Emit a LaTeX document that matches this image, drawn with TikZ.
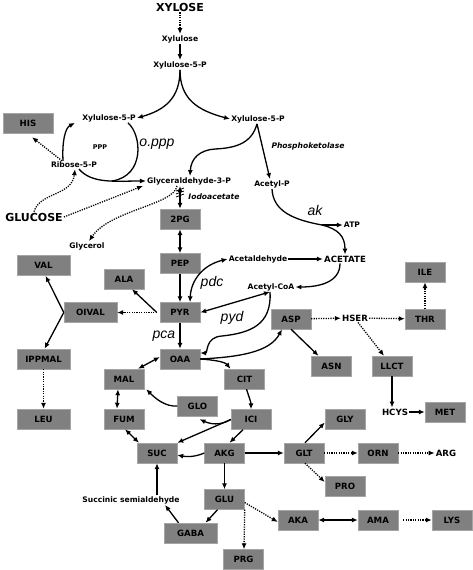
\documentclass[tikz,border=0pt]{standalone}
\usepackage{fontspec}
\setmainfont{DejaVu Sans}
\newfontfamily\labfont{Liberation Sans}
\usetikzlibrary{arrows.meta}
\definecolor{boxfill}{RGB}{128,128,128}
\definecolor{boxedge}{RGB}{165,165,165}
\begin{document}
\begin{tikzpicture}[x=1pt,y=-1pt,
  box/.style={draw=boxedge, fill=boxfill, minimum width=40pt, minimum height=20pt, inner sep=0pt, font=\bfseries\fontsize{8.6}{9}\selectfont},
  wbox/.style={box, minimum width=53pt},
  lab/.style={font=\bfseries\fontsize{7.6}{8}\selectfont, inner sep=1pt},
  mlab/.style={font=\bfseries\fontsize{8.6}{9}\selectfont, inner sep=1pt},
  big/.style={font=\bfseries\fontsize{11}{12}\selectfont, inner sep=1pt},
  enz/.style={font=\labfont\itshape\fontsize{14}{15}\selectfont, inner sep=0pt},
  enzb/.style={font=\bfseries\itshape\fontsize{7.6}{8}\selectfont, inner sep=0pt},
  tip/.tip={Latex[length=6pt,width=5pt]},
  arr/.style={-tip, line width=1.3pt},
  darr/.style={tip-tip, line width=1.3pt},
  dotarr/.style={-tip, line width=1.3pt, dash pattern=on 1.2pt off 1.2pt},
  pline/.style={line width=1.3pt}
]
\useasboundingbox (0,0) rectangle (473,570);
% text nodes
\node[big] (XYLOSE) at (180,7) {XYLOSE};
\node[lab] (Xylulose) at (180,39) {Xylulose};
\node[lab] (X5Pt) at (180,65) {Xylulose-5-P};
\node[lab] (X5Pl) at (109,118) {Xylulose-5-P};
\node[lab] (X5Pr) at (258,119) {Xylulose-5-P};
\node[font=\bfseries\fontsize{6.5}{7}\selectfont] (PPP) at (100,147) {PPP};
\node[enz] (oppp) at (157,144) {o.ppp};
\node[lab] (R5P) at (74,165) {Ribose-5-P};
\node[big] (GLUCOSE) at (34,217) {GLUCOSE};
\node[lab] (G3P) at (189,181) {Glyceraldehyde-3-P};
\node[enzb] (Iodo) at (214,197) {Iodoacetate};
\node[enzb] (Phospho) at (308,146) {Phosphoketolase};
\node[lab] (AcP) at (272,184) {Acetyl-P};
\node[enz] (ak) at (315,210) {ak};
\node[lab] (ATP) at (352,225) {ATP};
\node[mlab] (ACETATE) at (345,259) {ACETATE};
\node[lab] (Acetald) at (258,259) {Acetaldehyde};
\node[lab] (AcCoA) at (271,287) {Acetyl-CoA};
\node[lab] (Glycerol) at (87,246) {Glycerol};
\node[enz] (pdc) at (212,283) {pdc};
\node[enz] (pyd) at (232,318) {pyd};
\node[enz] (pca) at (164,336) {pca};
\node[lab] (SSA) at (131,500) {Succinic semialdehyde};
\node[mlab] (ARG) at (446,453) {ARG};
\node[mlab] (HCYS) at (395,412) {HCYS};
\node[mlab] (HSER) at (355,318) {HSER};
% boxes
\node[box, minimum width=50pt] (HIS) at (28,123) {HIS};
\node[box] (PG2) at (180,219) {2PG};
\node[wbox] (VAL) at (43.5,265.5) {VAL};
\node[box] (PEP) at (180,263.5) {PEP};
\node[box] (ALA) at (124,279) {ALA};
\node[wbox] (OIVAL) at (90.5,312.5) {OIVAL};
\node[box] (PYR) at (180,312.5) {PYR};
\node[wbox] (IPPMAL) at (43.5,359) {IPPMAL};
\node[wbox] (LEU) at (43.5,419) {LEU};
\node[box] (OAA) at (180,359) {OAA};
\node[box] (MAL) at (124,379) {MAL};
\node[box] (FUM) at (124,419) {FUM};
\node[box] (GLO) at (197.5,406) {GLO};
\node[box] (CIT) at (244.5,379) {CIT};
\node[box] (ICI) at (251,419.5) {ICI};
\node[box] (SUC) at (157,453) {SUC};
\node[box] (AKG) at (224.5,453) {AKG};
\node[box] (GLT) at (304,453) {GLT};
\node[box] (GLY) at (345,419.5) {GLY};
\node[box] (ORN) at (378,453) {ORN};
\node[box] (PRO) at (345,486) {PRO};
\node[box] (ASN) at (331.5,366) {ASN};
\node[box] (LLCT) at (392,366) {LLCT};
\node[box] (MET) at (445,412) {MET};
\node[box] (ASP) at (291,319) {ASP};
\node[box] (THR) at (425,319) {THR};
\node[box] (ILE) at (425,272) {ILE};
\node[box] (GLU) at (224.5,499.5) {GLU};
\node[wbox] (GABA) at (190.5,533) {GABA};
\node[box] (PRG) at (243.5,559.5) {PRG};
\node[box] (AKA) at (298,520) {AKA};
\node[box] (AMA) at (378,520) {AMA};
\node[box] (LYS) at (452,520) {LYS};
% xylose branch
\draw[dotarr] (XYLOSE) -- (Xylulose);
\draw[arr] (Xylulose) -- (X5Pt);
\draw[arr] (X5Pt.south) .. controls (180,98) and (165,110) .. (X5Pl.east);
\draw[arr] (X5Pt.south) .. controls (180,98) and (196,110) .. (X5Pr.west);
% PPP
\draw[pline] ([xshift=19pt]X5Pl.south) .. controls (142,135) and (145,176) .. (112,181);
\draw[arr] ([xshift=5pt]R5P.south) .. controls (92,184) and (115,181) .. (G3P.west);
\draw[arr] ([xshift=-11pt]R5P.north) .. controls (62,142) and (65,128) .. ([xshift=-34pt]X5Pl.south);
\draw[dotarr] ([xshift=-12pt]R5P.north) -- ([xshift=4pt,yshift=-4pt]HIS.south);
\draw[dotarr] (GLUCOSE.north) .. controls (40,192) and (72,196) .. ([xshift=1pt]R5P.south);
\draw[dotarr] (GLUCOSE.east) -- ([xshift=-3pt]G3P.south west);
\draw[darr] ([xshift=-9pt]G3P.south) -- (PG2.north);
\draw[line width=0.8pt] (176,191) -- (184,188) (176,194) -- (184,191) (176,197) -- (184,194);
\draw[dotarr] ([xshift=-12pt]G3P.south) .. controls (174,205) and (110,210) .. ([xshift=2pt]Glycerol.north);
% phosphoketolase
\draw[arr] ([xshift=-1pt]X5Pr.south) .. controls (252,142) and (238,148) .. (215,149) .. controls (200,150) and (191,158) .. ([xshift=1pt]G3P.north);
\draw[arr] ([xshift=-1pt]X5Pr.south) -- ([xshift=-2pt]AcP.north);
\coordinate (akm) at (322,225);
\draw[arr] (AcP.south) .. controls (273,212) and (295,220) .. (akm) .. controls (338,229) and (345,236) .. (ACETATE.north);
\draw[arr] (akm) -- (ATP.west);
\draw[arr] (Acetald.east) -- (ACETATE.west);
\draw[arr] ([xshift=-5pt]ACETATE.south) .. controls (340,282) and (320,287) .. (AcCoA.east);
% glycolysis
\draw[darr] (PG2) -- (PEP);
\draw[arr] (PEP) -- (PYR);
\draw[darr] ([xshift=10pt]PYR.north) .. controls (191,280) and (203,265) .. (Acetald.west);
\draw[arr] ([xshift=-3pt]PYR.west) -- ([xshift=8pt]ALA.south);
\draw[dotarr] ([xshift=-3pt]PYR.west) -- (OIVAL.east);
\draw[arr] (OIVAL.west) -- ([xshift=2pt]VAL.south);
\draw[arr] (OIVAL.west) -- ([xshift=1pt]IPPMAL.north);
\draw[dotarr] (IPPMAL) -- (LEU);
\draw[arr] (PYR) -- (OAA);
\draw[darr] (PYR.east) -- ([xshift=-1pt]AcCoA.south);
\draw[arr] ([xshift=-1pt]AcCoA.south) .. controls (272,325) and (250,333) .. (222,336) .. controls (205,337) and (208,353) .. ([yshift=6pt]OAA.east);
\draw[arr] (OAA.east) .. controls (240,357) and (270,352) .. ([xshift=-9pt]ASP.south);
\draw[arr] (OAA.east) .. controls (215,360) and (225,362) .. ([xshift=-14pt]CIT.north);
\draw[darr] ([yshift=2pt]OAA.west) -- ([xshift=14pt]MAL.north);
% TCA
\draw[arr] ([xshift=2pt]CIT.south) .. controls (249,397) and (251,402) .. (ICI.north);
\draw[arr] (ICI.west) .. controls (220,426) and (210,424) .. ([xshift=2pt,yshift=-3pt]GLO.south);
\draw[arr] (GLO.west) .. controls (165,407) and (155,398) .. ([xshift=2pt]MAL.south east);
\draw[darr] ([xshift=-6pt]MAL.south) -- ([xshift=-7pt]FUM.north);
\draw[darr] ([xshift=1pt]FUM.south) -- ([xshift=-18pt]SUC.north);
\draw[arr] (ICI.west) -- (SUC.north east);
\draw[arr] ([xshift=-8pt]ICI.south) -- ([xshift=5pt]AKG.north);
\draw[arr] (AKG.west) .. controls (195,457) and (187,457) .. ([yshift=-2pt]SUC.east);
\draw[arr] (AKG) -- (GLT);
\draw[arr] (AKG) -- (GLU);
% amino acids
\draw[arr] ([xshift=1pt]GLT.north) -- ([yshift=-3pt]GLY.west);
\draw[dotarr] (GLT) -- (ORN);
\draw[dotarr] (ORN) -- (ARG);
\draw[dotarr] ([xshift=1pt]GLT.south) -- ([yshift=4pt]PRO.west);
\draw[arr] ([xshift=-7pt]GLU.south) -- ([xshift=15pt]GABA.north);
\draw[arr] ([xshift=-12pt]GABA.north) -- ([xshift=34pt]SSA.south);
\draw[arr] ([xshift=26pt]SSA.north) -- (SUC.south);
\draw[dotarr] ([yshift=-3pt]GLU.east) -- ([yshift=-2pt]AKA.west);
\draw[dotarr] (GLU.south east) -- ([xshift=0.5pt]PRG.north);
\draw[darr] (AKA) -- (AMA);
\draw[dotarr] ([xshift=5pt]AMA.east) -- (LYS.west);
\draw[dotarr] (ASP) -- (HSER);
\draw[dotarr] (HSER) -- (THR);
\draw[dotarr] ([xshift=3pt]HSER.south) -- ([xshift=-8pt]LLCT.north);
\draw[dotarr] (THR) -- (ILE);
\draw[arr] (ASP.south) -- ([xshift=-13pt]ASN.north);
\draw[arr] (LLCT.south) -- ([xshift=-3pt]HCYS.north);
\draw[arr] (HCYS) -- (MET);
\end{tikzpicture}
\end{document}
